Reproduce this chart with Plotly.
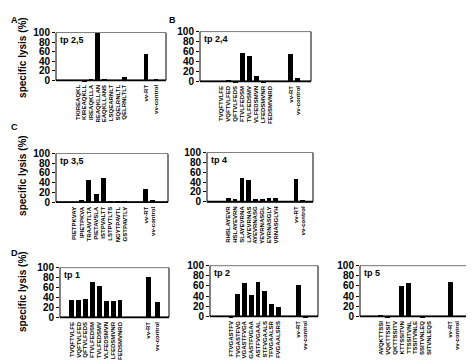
import plotly.graph_objects as go

W, H = 474, 364

# ---------------- data ----------------
controls = ["vv-RT", "vv-control"]

tp25_labels = ["TKIREAQKL", "KIREAQKLL", "IREAQKLLA", "REAQKLLAN",
               "EAQKLLANS", "LSQEARNLT", "SQELRNLTL", "QELRNLTLT"]
tp25_values = [0, -3, 2, 100, 3, 1, 1, 7]
tp25_ctrl = [57, 3]

tp24_labels = ["TVQFTVLFE", "VQFTVLFED", "QFTVLFEDS", "FTVLFEDSM",
               "TVLFEDSMV", "VLFEDSMVN", "LFEDSMVNR", "FEDSMVNRD"]
tp24_values = [0, 3, -1, 57, 52, 12, -2, 0]
tp24_ctrl = [56, 7]

tp35_labels = ["PIETPKVAY", "IPIETPKVA", "TRAAVTLTA", "PIETAVSLA",
               "ISTPVALTT", "LSTPVTLTS", "NGYTPAVTL", "GSTPAVTLY"]
tp35_values = [0, 2, 45, 15, 48, -3, -3, -3]
tp35_ctrl = [26, 2]

tp4_labels = ["RHSLAYEVR", "HSLAYEVRN", "SLAYEVRNA", "LAYEVRNAS",
              "AYEVRNASG", "YEVRNASGL", "EVRNASGLY", "VRNASGLYH"]
tp4_values = [6, 5, 47, 44, 4, 5, 6, 6]
tp4_ctrl = [46, 2]

tp1_labels = ["TVQFTVLFE", "VQFTVLFED", "QFTVLFEDS", "FTVLFEDSM",
              "TVLFEDSMV", "VLFEDSMVN", "LFEDSMVNR", "FEDSMVNRD"]
tp1_values = [35, 36, 37, 72, 64, 34, 34, 36]
tp1_ctrl = [82, 31]

tp2_labels = ["FTVGASTFV", "TVGASTFVG", "VGASTFVGA", "GASTFVGAA",
              "ASTFVGAAL", "STFVGAALS", "TFVGAALSR", "FVGAALSRS"]
tp2_values = [-1, 45, 67, 43, 68, 51, 26, 19]
tp2_ctrl = [63, -2]

tp5_labels = ["AVQKTTSSI", "VQKTTSSIT", "QKTTSSITV", "KTTSSITVN",
              "TTSSITVNL", "TSSITVNLE", "SSITVNLEQ", "SITVNLEQS"]
tp5_values = [2, -1, 0, 61, 66, 0, -1, 0]
tp5_ctrl = [69, 0]

yticks = [0, 20, 40, 60, 80, 100]

# ---------------- layout of panels (pixels) ----------------
panels = [
    ("tp 2,5", tp25_labels, tp25_values, tp25_ctrl, (48, 158, 19, 68), (-2.25, 14.25), (11.25, 12.75)),
    ("tp 2,4", tp24_labels, tp24_values, tp24_ctrl, (192, 303, 18, 69), (-2.1, 13.9), (11.0, 12.0)),
    ("tp 3,5", tp35_labels, tp35_values, tp35_ctrl, (48, 160, 143, 193), (-1.56, 14.0), (10.9, 11.9)),
    ("tp 4", tp4_labels, tp4_values, tp4_ctrl, (199, 305, 142, 192.5), (-2.15, 13.5), (11.0, 12.0)),
    ("tp 1", tp1_labels, tp1_values, tp1_ctrl, (52, 161, 260, 311), (-0.7, 15.1), (12.1, 13.4)),
    ("tp 2", tp2_labels, tp2_values, tp2_ctrl, (202, 310, 258, 310), (-2.1, 13.9), (11.0, 12.0)),
    ("tp 5", tp5_labels, tp5_values, tp5_ctrl, (352, 463, 258, 310), (-2.0, 14.0), (11.0, 12.0)),
]

YMIN = -5
fig = go.Figure()
shapes = []
annotations = []
layout = {}
FONT = "Liberation Sans"

for i, (name, labels, vals, ctrl, (L, R, T, Z), xr, cpos) in enumerate(panels):
    k = "" if i == 0 else str(i + 1)
    scale = (Z - T) / 100.0
    B = Z - YMIN * scale
    xs = list(range(1, len(labels) + 1)) + list(cpos)
    ys = list(vals) + list(ctrl)
    fig.add_trace(go.Bar(x=xs, y=ys, width=0.7, marker=dict(color="black", line=dict(width=0)),
                         xaxis="x" + k, yaxis="y" + k, showlegend=False))
    layout["xaxis" + k] = dict(domain=[L / W, R / W], range=list(xr), anchor="y" + k,
                               tickvals=xs, ticktext=list(labels) + controls, tickangle=-90,
                               showgrid=False, zeroline=False, showline=False, ticks="",
                               tickfont=dict(family=FONT, size=6, color="black", weight="bold"))
    layout["yaxis" + k] = dict(domain=[1 - B / H, 1 - T / H], range=[YMIN, 100], anchor="x" + k,
                               tickvals=yticks, ticks="outside", ticklen=3, tickwidth=1,
                               tickcolor="black", showgrid=False, zeroline=False, showline=False,
                               tickfont=dict(family=FONT, size=10, color="black", weight="bold"))
    xref = "x" + k
    yref = "y" + k
    shapes.append(dict(type="rect", xref=xref + " domain", yref=yref, x0=0, x1=1, y0=0, y1=100,
                       line=dict(color="black", width=1), layer="below"))
    shapes.append(dict(type="line", xref=xref + " domain", yref=yref, x0=0, x1=1, y0=0, y1=0,
                       line=dict(color="black", width=1.8)))
    annotations.append(dict(text="<b>" + name + "</b>", xref=xref + " domain", yref=yref + " domain",
                            x=0.02, y=0.985, xanchor="left", yanchor="top",
                            showarrow=False, font=dict(family=FONT, size=9, color="black")))

# y axis titles
for cy in (45, 166, 285):
    annotations.append(dict(text="<b>specific lysis (%)</b>", xref="paper", yref="paper",
                            x=15 / W, y=1 - cy / H, textangle=-90, showarrow=False,
                            xanchor="center", yanchor="middle",
                            font=dict(family=FONT, size=10, color="black")))

# panel letters
for letter, px, py in (("A", 6, 6), ("B", 164, 6), ("C", 6, 116), ("D", 6, 245)):
    annotations.append(dict(text="<b>" + letter + "</b>", xref="paper", yref="paper",
                            x=px / W, y=1 - py / H, showarrow=False, xanchor="center",
                            yanchor="middle", font=dict(family=FONT, size=9, color="black")))

fig.update_layout(width=W, height=H, margin=dict(l=0, r=0, t=0, b=0),
                  paper_bgcolor="white", plot_bgcolor="white",
                  shapes=shapes, annotations=annotations, bargap=0, **layout)

fig.write_html("out.html")
